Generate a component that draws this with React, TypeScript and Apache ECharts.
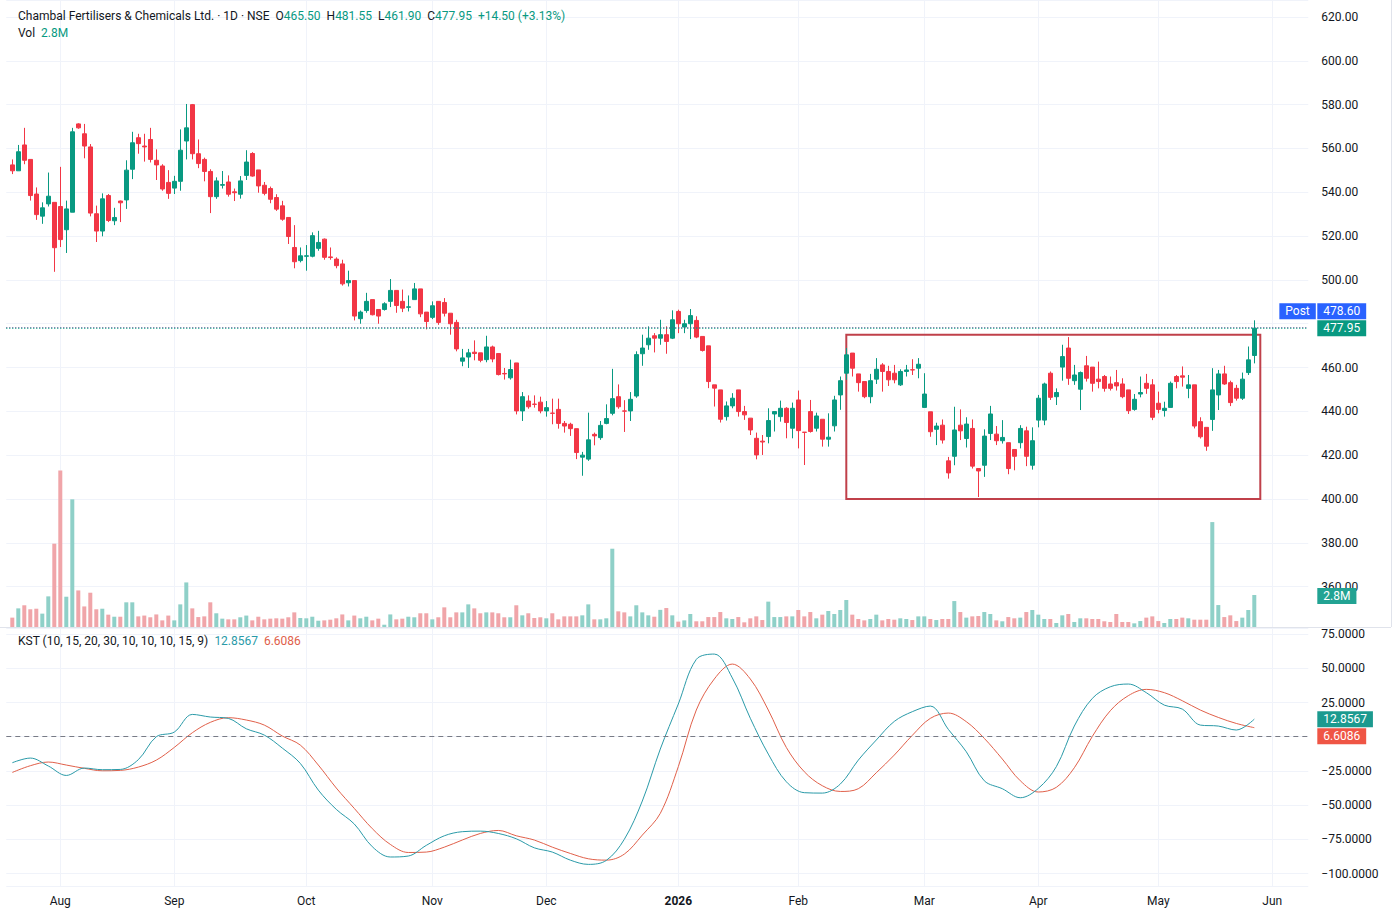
import React, { useEffect, useRef } from "react";
import * as echarts from "echarts";

// ---------- data ----------
const openP = [
  552.5, 549.8, 561.6, 555.0, 539.2, 529.1, 534.7, 535.4, 533.5, 522.9,
  530.9, 571.2, 566.7, 560.7, 530.2, 522.3, 538.5, 527.0, 536.0, 536.5,
  550.5, 564.9, 561.1, 564.1, 554.6, 552.0, 544.5, 541.9, 545.0, 563.4,
  580.0, 557.6, 555.0, 549.5, 538.0, 543.2, 544.7, 540.2, 539.1, 547.7,
  557.7, 550.2, 543.2, 541.7, 537.6, 533.8, 528.5, 514.8, 508.8, 510.8,
  510.8, 514.4, 518.6, 510.5, 509.5, 507.3, 498.7, 499.7, 482.3, 486.0,
  491.0, 486.5, 486.5, 490.2, 495.2, 490.2, 487.5, 491.0, 495.9, 485.3,
  482.9, 490.2, 489.7, 484.8, 480.6, 462.9, 464.8, 467.0, 466.7, 463.6,
  469.4, 466.4, 457.3, 455.3, 462.1, 440.2, 444.7, 443.3, 444.2, 440.2,
  439.2, 440.9, 434.5, 434.1, 432.1, 419.1, 418.2, 429.5, 428.0, 434.5,
  439.1, 446.7, 440.2, 440.2, 447.0, 466.3, 470.4, 474.5, 473.4, 475.0,
  473.4, 485.6, 478.5, 480.0, 481.5, 474.2, 469.9, 452.1, 449.8, 437.6,
  442.5, 449.8, 439.9, 436.9, 427.7, 426.4, 428.5, 438.8, 437.6, 441.4,
  432.3, 445.2, 430.5, 439.9, 432.3, 436.4, 427.3, 433.4, 447.5, 457.4,
  466.6, 457.1, 453.6, 446.7, 454.7, 461.2, 458.2, 457.4, 452.1, 458.2,
  459.0, 459.7, 441.8, 439.8, 431.8, 433.7, 417.4, 419.5, 433.7, 427.6,
  432.2, 413.9, 415.4, 429.9, 429.6, 426.6, 425.7, 422.6, 425.7, 431.1,
  415.4, 436.0, 436.0, 457.4, 446.7, 460.2, 468.9, 454.0, 450.1, 460.8,
  460.2, 454.7, 455.9, 452.5, 453.1, 452.5, 449.8, 440.9, 447.9, 452.8,
  452.1, 443.7, 440.4, 441.8, 455.9, 456.2, 450.5, 452.1, 435.3, 432.7,
  436.3, 447.5, 457.1, 453.1, 450.5, 446.0, 457.7, 465.5,
];
const closeP = [
  549.8, 558.5, 554.6, 538.5, 529.8, 532.9, 538.2, 514.7, 518.4, 532.4,
  567.6, 569.4, 561.1, 530.5, 522.3, 537.0, 527.1, 528.5, 535.2, 550.1,
  562.6, 562.2, 560.7, 555.0, 552.5, 541.5, 539.5, 545.0, 559.2, 569.4,
  557.6, 553.1, 549.5, 538.0, 545.2, 543.5, 539.1, 539.8, 545.2, 553.8,
  547.4, 542.9, 539.5, 536.8, 532.3, 527.7, 519.8, 508.3, 511.0, 511.0,
  520.2, 517.1, 510.3, 510.2, 506.5, 498.2, 499.7, 483.5, 485.3, 490.2,
  484.1, 483.5, 489.1, 495.2, 488.3, 487.1, 487.7, 495.9, 484.5, 481.0,
  488.2, 480.6, 484.8, 480.0, 468.5, 464.4, 466.7, 466.4, 463.3, 469.4,
  463.9, 456.8, 457.1, 459.1, 440.2, 446.7, 442.1, 443.2, 440.2, 441.7,
  439.1, 434.5, 433.3, 432.1, 421.2, 420.0, 427.0, 428.8, 433.6, 436.7,
  445.8, 442.1, 440.1, 445.5, 465.9, 468.9, 473.4, 473.4, 475.0, 471.9,
  481.8, 480.0, 480.0, 483.7, 473.9, 467.8, 453.6, 450.6, 436.4, 442.5,
  446.0, 439.9, 438.4, 431.5, 420.1, 426.0, 435.8, 439.9, 441.4, 434.9,
  441.4, 431.2, 430.4, 430.8, 437.9, 427.3, 428.2, 445.2, 454.0, 465.8,
  459.7, 453.1, 446.7, 454.0, 459.2, 458.2, 454.4, 454.4, 458.2, 458.9,
  458.9, 461.5, 447.9, 430.7, 433.3, 426.9, 411.9, 431.5, 431.1, 434.2,
  415.0, 412.8, 428.7, 438.8, 426.6, 428.1, 413.9, 419.5, 432.2, 419.5,
  426.6, 446.0, 452.5, 446.4, 448.6, 465.0, 455.1, 456.6, 457.7, 455.1,
  452.8, 453.6, 450.5, 450.5, 451.6, 446.7, 440.3, 445.5, 448.6, 450.5,
  437.3, 440.9, 441.4, 452.8, 453.6, 455.6, 452.1, 433.3, 428.4, 424.1,
  449.8, 457.1, 452.5, 444.0, 446.0, 454.7, 463.5, 477.95,
];
const lowP = [
  548.3, 549.8, 552.8, 536.2, 527.4, 525.6, 533.5, 503.7, 515.0, 512.3,
  530.9, 569.0, 555.5, 529.0, 517.3, 519.9, 526.4, 525.0, 526.4, 532.4,
  546.0, 557.6, 554.0, 553.6, 545.6, 540.7, 537.0, 539.2, 540.7, 555.0,
  555.0, 551.0, 545.0, 530.5, 537.0, 541.7, 538.0, 536.0, 537.1, 545.6,
  547.1, 539.8, 538.6, 535.0, 531.5, 527.0, 516.4, 505.3, 508.0, 504.2,
  510.3, 513.3, 509.2, 509.2, 505.3, 497.4, 497.0, 481.5, 480.0, 485.0,
  483.8, 480.0, 486.0, 487.6, 485.0, 485.3, 485.6, 491.0, 483.0, 477.4,
  482.1, 479.5, 483.3, 475.0, 467.4, 460.6, 459.8, 463.3, 462.4, 462.4,
  462.4, 456.4, 454.5, 454.5, 438.6, 435.6, 441.2, 441.7, 439.1, 437.6,
  434.1, 432.1, 430.3, 428.8, 418.2, 410.6, 417.4, 424.5, 427.0, 434.1,
  438.2, 441.2, 430.6, 435.6, 446.2, 460.8, 468.1, 466.9, 470.4, 466.3,
  473.0, 475.7, 475.7, 473.0, 473.4, 467.3, 450.6, 442.2, 434.9, 435.8,
  441.4, 437.6, 436.1, 429.2, 418.1, 420.1, 425.4, 430.8, 435.3, 427.7,
  427.7, 423.1, 415.5, 430.3, 430.8, 423.9, 423.9, 430.8, 440.7, 454.4,
  455.9, 449.0, 446.0, 443.7, 452.5, 449.0, 451.6, 452.8, 451.6, 455.9,
  456.6, 455.1, 441.8, 428.4, 424.6, 425.3, 409.3, 415.4, 426.9, 423.5,
  413.9, 400.9, 410.1, 426.9, 424.6, 425.3, 411.3, 413.1, 423.1, 415.0,
  413.4, 432.7, 433.7, 445.2, 442.9, 454.0, 452.1, 452.1, 440.6, 453.6,
  449.0, 450.5, 449.0, 449.5, 449.5, 446.0, 438.8, 440.3, 446.4, 448.0,
  436.0, 439.1, 437.6, 441.8, 450.5, 451.3, 446.0, 432.2, 427.6, 422.0,
  431.1, 440.6, 452.1, 442.4, 444.9, 445.2, 456.6, 461.9,
];
const highP = [
  555.0, 561.6, 569.4, 555.0, 542.2, 535.4, 549.0, 535.4, 551.6, 536.2,
  569.4, 571.5, 571.2, 562.0, 533.9, 539.5, 539.2, 532.9, 536.2, 554.6,
  567.6, 566.7, 566.7, 569.4, 559.6, 552.8, 550.1, 547.5, 568.7, 580.3,
  580.3, 564.1, 555.8, 550.5, 546.8, 549.7, 547.7, 541.7, 547.4, 559.2,
  558.3, 550.2, 544.7, 542.6, 539.1, 536.1, 528.5, 525.0, 514.8, 515.9,
  521.7, 522.4, 518.9, 514.8, 510.3, 509.2, 504.2, 499.7, 486.0, 494.1,
  491.0, 486.5, 489.8, 500.4, 495.2, 495.6, 492.9, 498.6, 495.9, 485.3,
  490.2, 490.2, 491.7, 484.8, 481.8, 468.5, 468.5, 472.4, 466.7, 474.5,
  470.0, 466.4, 459.8, 463.6, 462.1, 448.8, 447.3, 447.3, 446.7, 444.7,
  445.8, 445.8, 435.6, 434.8, 432.1, 421.5, 439.4, 430.3, 435.6, 443.2,
  459.4, 452.3, 445.1, 448.8, 467.4, 475.0, 478.8, 475.7, 481.8, 478.8,
  486.1, 486.4, 481.8, 486.7, 483.4, 474.2, 469.9, 452.1, 449.8, 444.5,
  448.3, 449.8, 442.5, 436.9, 430.3, 429.2, 441.4, 439.9, 444.9, 441.9,
  444.0, 449.5, 430.5, 445.2, 439.4, 436.4, 439.1, 447.1, 455.9, 468.9,
  466.6, 457.1, 453.6, 457.1, 464.3, 462.0, 460.8, 461.2, 459.2, 461.2,
  463.8, 464.3, 457.4, 439.8, 434.8, 436.3, 419.2, 442.1, 440.9, 437.3,
  436.3, 413.9, 431.8, 442.5, 433.3, 436.0, 425.7, 422.6, 433.7, 433.0,
  432.7, 447.5, 453.1, 458.2, 450.5, 470.4, 473.9, 461.2, 458.2, 465.3,
  460.2, 462.7, 456.6, 455.9, 458.9, 455.1, 449.8, 447.9, 455.9, 457.1,
  454.7, 449.0, 444.4, 453.6, 456.6, 460.5, 456.6, 452.1, 437.3, 432.7,
  459.7, 458.9, 460.8, 454.0, 452.1, 457.7, 469.6, 481.55,
];
// volume, millions of shares
const volumeM = [
  0.82, 1.63, 1.9, 1.55, 1.6, 1.17, 2.68, 7.29, 13.7, 2.65,
  11.17, 3.2, 1.8, 3.0, 1.55, 1.6, 1.08, 0.9, 0.9, 2.16,
  2.16, 0.93, 1.0, 0.85, 1.1, 0.58, 1.0, 0.58, 1.98, 3.9,
  1.63, 0.87, 0.93, 2.16, 1.2, 0.73, 0.67, 0.67, 0.85, 1.0,
  0.58, 0.9, 0.67, 0.73, 0.76, 0.73, 0.85, 1.28, 0.79, 0.76,
  0.9, 0.55, 0.58, 0.64, 0.76, 1.1, 0.58, 1.0, 0.76, 0.9,
  0.58, 0.73, 0.2, 1.1, 0.67, 0.73, 0.9, 0.85, 1.2, 1.2,
  0.67, 0.85, 1.72, 0.85, 1.28, 1.28, 1.98, 1.63, 1.2, 1.28,
  1.28, 1.2, 0.85, 0.85, 1.9, 1.02, 1.2, 0.79, 0.85, 0.76,
  1.2, 0.67, 0.93, 0.93, 0.93, 1.02, 1.98, 0.67, 0.67, 0.76,
  6.85, 1.37, 1.28, 0.93, 1.9, 1.28, 1.02, 0.9, 1.5, 1.66,
  1.02, 0.47, 0.58, 1.14, 0.5, 0.5, 0.87, 0.87, 1.31, 0.76,
  0.7, 0.87, 0.41, 0.76, 0.93, 0.61, 2.22, 0.87, 0.87, 0.93,
  0.93, 1.49, 0.93, 1.31, 0.76, 1.08, 1.4, 1.14, 1.49, 2.36,
  1.08, 0.7, 0.58, 0.7, 1.08, 0.58, 0.7, 0.64, 0.76, 0.7,
  0.61, 0.93, 0.93, 0.7, 0.61, 0.7, 0.7, 2.27, 1.31, 0.82,
  0.93, 0.96, 1.31, 1.14, 0.58, 0.5, 0.87, 0.76, 0.82, 1.31,
  1.49, 1.08, 0.7, 0.7, 0.35, 1.02, 1.14, 0.44, 0.76, 0.76,
  0.7, 0.7, 0.5, 0.44, 1.14, 0.44, 0.44, 0.32, 0.52, 0.82,
  0.93, 0.52, 0.35, 0.7, 0.7, 0.82, 0.76, 0.64, 0.64, 0.64,
  9.18, 1.92, 0.87, 1.02, 0.52, 0.82, 1.49, 2.8,
];
// KST and its signal, read at every 3rd session (session 0, 3, 6, ... 207)
const kstStep = 3;
const kstLine = [
  -19, -15.6, -21.4, -28.3, -22.9, -24.1, -23.9, -16.8, 0, 3.4,
  16.3, 14.4, 13.4, 5.8, 1.2, -8.3, -19.5, -39, -53.1, -63.8,
  -80.4, -87.9, -87.2, -79.4, -72.4, -69.4, -69, -70.7, -74.6, -81.2,
  -84.3, -90.2, -93.3, -90.4, -75, -47, -9, 23.9, 56.5, 60.4,
  43, 13.5, -12.7, -32.9, -40.9, -41.2, -34.6, -17.1, -2.4, 11.2,
  18.3, 22.4, 5.4, -11, -32.2, -38, -44.6, -37.8, -21.9, 7.8,
  28, 36.5, 38.5, 32.2, 23.1, 20.2, 8.5, 7.8, 4.9, 12.8567,
];
const kstSignal = [
  -26.1, -21.2, -18.5, -20.7, -23.1, -24.9, -24.6, -22.2, -17.1, -7.8,
  2.9, 10.5, 13.9, 12.2, 8.5, 0.5, -6.1, -20.7, -37.5, -52.4,
  -67.2, -78.7, -84.6, -84.3, -80.7, -75.5, -70.7, -68.5, -72.4, -75.5,
  -80.7, -85.3, -89.2, -90.2, -85.8, -71.9, -56, -21.9, 19.5, 42.2,
  53.1, 42.2, 19.5, -7.8, -25.6, -35.8, -40, -38, -26.3, -13.4,
  1, 13.4, 17.3, 11, -1.2, -16.3, -32.2, -40.4, -37, -22.7,
  0.2, 19, 30, 34.6, 32.2, 26.3, 19.5, 14.1, 9.7, 6.6086,
];
// month labels: [slot index, label]
const monthTicks: [number, string][] = [
  [9, "Aug"], [28, "Sep"], [50, "Oct"], [71, "Nov"], [90, "Dec"], [112, "2026"],
  [132, "Feb"], [153, "Mar"], [172, "Apr"], [192, "May"], [211, "Jun"],
];
const leadSlots = 1;
const futureSlots = 9;
const lastPrice = 477.95;
const postPrice = 478.6;
const lastVolume = 2.8;
const boxRange = { fromSlot: 140, toSlot: 209, top: 475, bottom: 400 };

// ---------- styles ----------
const FONT = "Roboto, 'Noto Sans', sans-serif";
const TEXT = "#131722";
const GRIDC = "#f0f3fa";
const UP = "#089981";
const DOWN = "#f23645";
const VOL_UP = "#8fd0c8";
const VOL_DOWN = "#f0a5a9";
const KST_C = "#2a9aa8";
const SIG_C = "#e0604a";
const POST_C = "#2962ff";

export default function App() {
  const ref = useRef<HTMLDivElement>(null);
  useEffect(() => {
    const el = ref.current!;
    const chart = echarts.init(el, null, { renderer: "svg" });
    const n = openP.length;
    const slotCount = leadSlots + n + futureSlots;
    const categories = Array.from({ length: slotCount }, (_, k) => "s" + k);
    const monthMap = new Map<number, string>(monthTicks);
    const isMonth = (i: number) => monthMap.has(i);

    const candleData = categories.map((_, k) => {
      const j = k - leadSlots;
      return j >= 0 && j < n ? [openP[j], closeP[j], lowP[j], highP[j]] : "-";
    });
    const volData = categories.map((_, k) => {
      const j = k - leadSlots;
      if (j < 0 || j >= n) return "-";
      return { value: volumeM[j], itemStyle: { color: closeP[j] >= openP[j] ? VOL_UP : VOL_DOWN } };
    });
    const kstData = kstLine.map((v, m) => [categories[leadSlots + m * kstStep], v]);
    const sigData = kstSignal.map((v, m) => [categories[leadSlots + m * kstStep], v]);

    const onStep = (v: number, step: number) => Math.abs(v / step - Math.round(v / step)) < 1e-6;
    // the scale label hidden behind the last-price badge is not drawn (as on the reference)
    const priceFmt = (v: number) =>
      onStep(v, 20) && Math.abs(v - lastPrice) > 5 ? v.toFixed(2) : "";
    const kstFmt = (v: number) => (onStep(v, 25) ? (v < 0 ? "\u2212" + Math.abs(v).toFixed(4) : v.toFixed(4)) : "");

    const xBase = {
      type: "category",
      data: categories,
      boundaryGap: false,
      axisLine: { show: false },
      axisTick: { show: false },
      splitLine: { show: true, interval: (i: number) => isMonth(i), lineStyle: { color: GRIDC, width: 1 } },
    };

    const staticGraphics: any[] = [
      {
        type: "text", id: "hdr1", x: 18, y: 16, z: 50,
        style: {
          text:
            "{t|Chambal Fertilisers & Chemicals Ltd. · 1D · NSE}  {k|O}{v|465.50}  {k|H}{v|481.55}  {k|L}{v|461.90}  {k|C}{v|477.95}  {v|+14.50 (+3.13%)}",
          verticalAlign: "middle",
          fontFamily: FONT, fontSize: 12, fill: TEXT,
          rich: {
            t: { fontFamily: FONT, fontSize: 12, fill: TEXT },
            k: { fontFamily: FONT, fontSize: 12, fill: TEXT },
            v: { fontFamily: FONT, fontSize: 12, fill: UP },
          },
        },
      },
      {
        type: "text", id: "hdr2", x: 18, y: 33, z: 50,
        style: {
          text: "{k|Vol}  {v|2.8M}", verticalAlign: "middle", fontFamily: FONT, fontSize: 12, fill: TEXT,
          rich: { k: { fontFamily: FONT, fontSize: 12, fill: TEXT }, v: { fontFamily: FONT, fontSize: 12, fill: UP } },
        },
      },
      {
        type: "text", id: "kstlbl", x: 18, y: 641, z: 50,
        style: {
          text: "{k|KST (10, 15, 20, 30, 10, 10, 10, 15, 9)}  {a|12.8567}  {b|6.6086}",
          verticalAlign: "middle", fontFamily: FONT, fontSize: 12, fill: TEXT,
          rich: {
            k: { fontFamily: FONT, fontSize: 12, fill: TEXT },
            a: { fontFamily: FONT, fontSize: 12, fill: KST_C },
            b: { fontFamily: FONT, fontSize: 12, fill: SIG_C },
          },
        },
      },
      { type: "line", id: "sepH", z: 40, shape: { x1: 0, y1: 627.5, x2: 1391, y2: 627.5 }, style: { stroke: "#e0e3eb", lineWidth: 1 } },
      { type: "line", id: "sepV", z: 40, shape: { x1: 1391.5, y1: 0, x2: 1391.5, y2: 627 }, style: { stroke: "#e0e3eb", lineWidth: 1 } },
    ];

    chart.setOption({
      animation: false,
      backgroundColor: "#ffffff",
      textStyle: { fontFamily: FONT },
      grid: [
        { left: 6.3, top: 0, width: 1302, height: 627, outerBoundsMode: "none" },
        { left: 6.3, top: 628, width: 1302, height: 258, outerBoundsMode: "none" },
      ],
      xAxis: [
        { ...xBase, gridIndex: 0, axisLabel: { show: false } },
        {
          ...xBase, gridIndex: 1,
          axisLabel: {
            show: true, interval: (i: number) => isMonth(i), color: TEXT, fontSize: 12, margin: 9, fontFamily: FONT,
            formatter: (_v: string, i: number) => {
              const l = monthMap.get(i) || "";
              return /^\d{4}$/.test(l) ? "{b|" + l + "}" : l;
            },
            rich: { b: { fontWeight: "bold", color: TEXT, fontSize: 12, fontFamily: FONT } },
          },
        },
      ],
      yAxis: [
        {
          type: "value", gridIndex: 0, position: "right", min: 341.57, max: 627.76,
          minInterval: 20, maxInterval: 20, splitNumber: 14,
          axisLine: { show: false }, axisTick: { show: false },
          axisLabel: { formatter: priceFmt, color: TEXT, fontSize: 12, margin: 13, fontFamily: FONT },
          splitLine: { show: true, lineStyle: { color: GRIDC, width: 1 } },
        },
        { type: "value", gridIndex: 0, min: 0, max: 54.86, show: false, splitLine: { show: false } },
        {
          type: "value", gridIndex: 1, position: "right", min: -109.1, max: 79.46,
          minInterval: 25, maxInterval: 25, splitNumber: 7,
          axisLine: { show: false }, axisTick: { show: false },
          axisLabel: { formatter: kstFmt, color: TEXT, fontSize: 12, margin: 13, fontFamily: FONT },
          splitLine: { show: true, lineStyle: { color: GRIDC, width: 1 } },
        },
      ],
      series: [
        {
          type: "bar", name: "Vol", xAxisIndex: 0, yAxisIndex: 1, data: volData, barWidth: 4, z: 1, silent: true,
        },
        {
          type: "candlestick", name: "Price", xAxisIndex: 0, yAxisIndex: 0, data: candleData, barWidth: 4, z: 3,
          itemStyle: { color: UP, color0: DOWN, borderColor: UP, borderColor0: DOWN, borderWidth: 1 },
          markArea: {
            silent: true,
            itemStyle: { color: "rgba(0,0,0,0)", borderColor: "#c0404a", borderWidth: 2 },
            data: [[
              { coord: [categories[boxRange.fromSlot], boxRange.top] },
              { coord: [categories[boxRange.toSlot], boxRange.bottom] },
            ]],
          },
          markLine: {
            silent: true, symbol: ["none", "none"], label: { show: false },
            data: [
              { yAxis: lastPrice, lineStyle: { color: UP, type: [1, 2], width: 1 } },
              { yAxis: postPrice, lineStyle: { color: "#4a5f8f", type: [1, 2], width: 1 } },
            ],
          },
        },
        {
          type: "line", name: "KST", xAxisIndex: 1, yAxisIndex: 2, data: kstData, showSymbol: false, smooth: 0.35,
          lineStyle: { color: KST_C, width: 1 }, itemStyle: { color: KST_C }, z: 3,
          markLine: {
            silent: true, symbol: ["none", "none"], label: { show: false },
            data: [{ yAxis: 0 }], lineStyle: { color: "#787b86", type: [5, 4], width: 1 },
          },
        },
        {
          type: "line", name: "Signal", xAxisIndex: 1, yAxisIndex: 2, data: sigData, showSymbol: false, smooth: 0.35,
          lineStyle: { color: SIG_C, width: 1 }, itemStyle: { color: SIG_C }, z: 2,
        },
      ],
      graphic: staticGraphics,
    });

    // value badges on the price scale, placed through the axes
    const yOf = (axis: number, v: number) => chart.convertToPixel({ yAxisIndex: axis } as any, v) as number;
    const xEdge = chart.convertToPixel({ xAxisIndex: 0 } as any, categories[slotCount - 1]) as number;
    const BADGE_H = 16;
    const badge = (id: string, text: string, x: number, y: number, bg: string, align = "left") => ({
      type: "text", id, x, y, z: 100,
      style: {
        text, fill: "#ffffff", backgroundColor: bg, padding: [2, 6, 2, 6],
        fontFamily: FONT, fontSize: 12, lineHeight: 12, align, verticalAlign: "middle",
      },
    });
    const yLast = yOf(0, lastPrice);
    const yPost = yLast - BADGE_H - 1;
    const yVol = yOf(1, lastVolume);
    const yK = yOf(2, kstLine[kstLine.length - 1]);
    const yS = Math.max(yOf(2, kstSignal[kstSignal.length - 1]), yK + BADGE_H + 1);
    const bx = xEdge + 9;
    chart.setOption({
      graphic: [
        ...staticGraphics,
        badge("bPost", "Post", xEdge + 7.5, yPost, POST_C, "right"),
        badge("bPostV", postPrice.toFixed(2), bx, yPost, POST_C),
        badge("bLast", lastPrice.toFixed(2), bx, yLast, UP),
        badge("bVol", lastVolume.toFixed(1) + "M", bx, yVol + 1, "#22a393"),
        badge("bK", kstLine[kstLine.length - 1].toFixed(4), bx, yK, "#1c9a8f"),
        badge("bS", kstSignal[kstSignal.length - 1].toFixed(4), bx, yS, "#ef5545"),
      ],
    });

    return () => chart.dispose();
  }, []);

  return (
    <div
      ref={ref}
      style={{ position: "fixed", left: 0, top: 0, width: 1398, height: 912, background: "#ffffff" }}
    />
  );
}
